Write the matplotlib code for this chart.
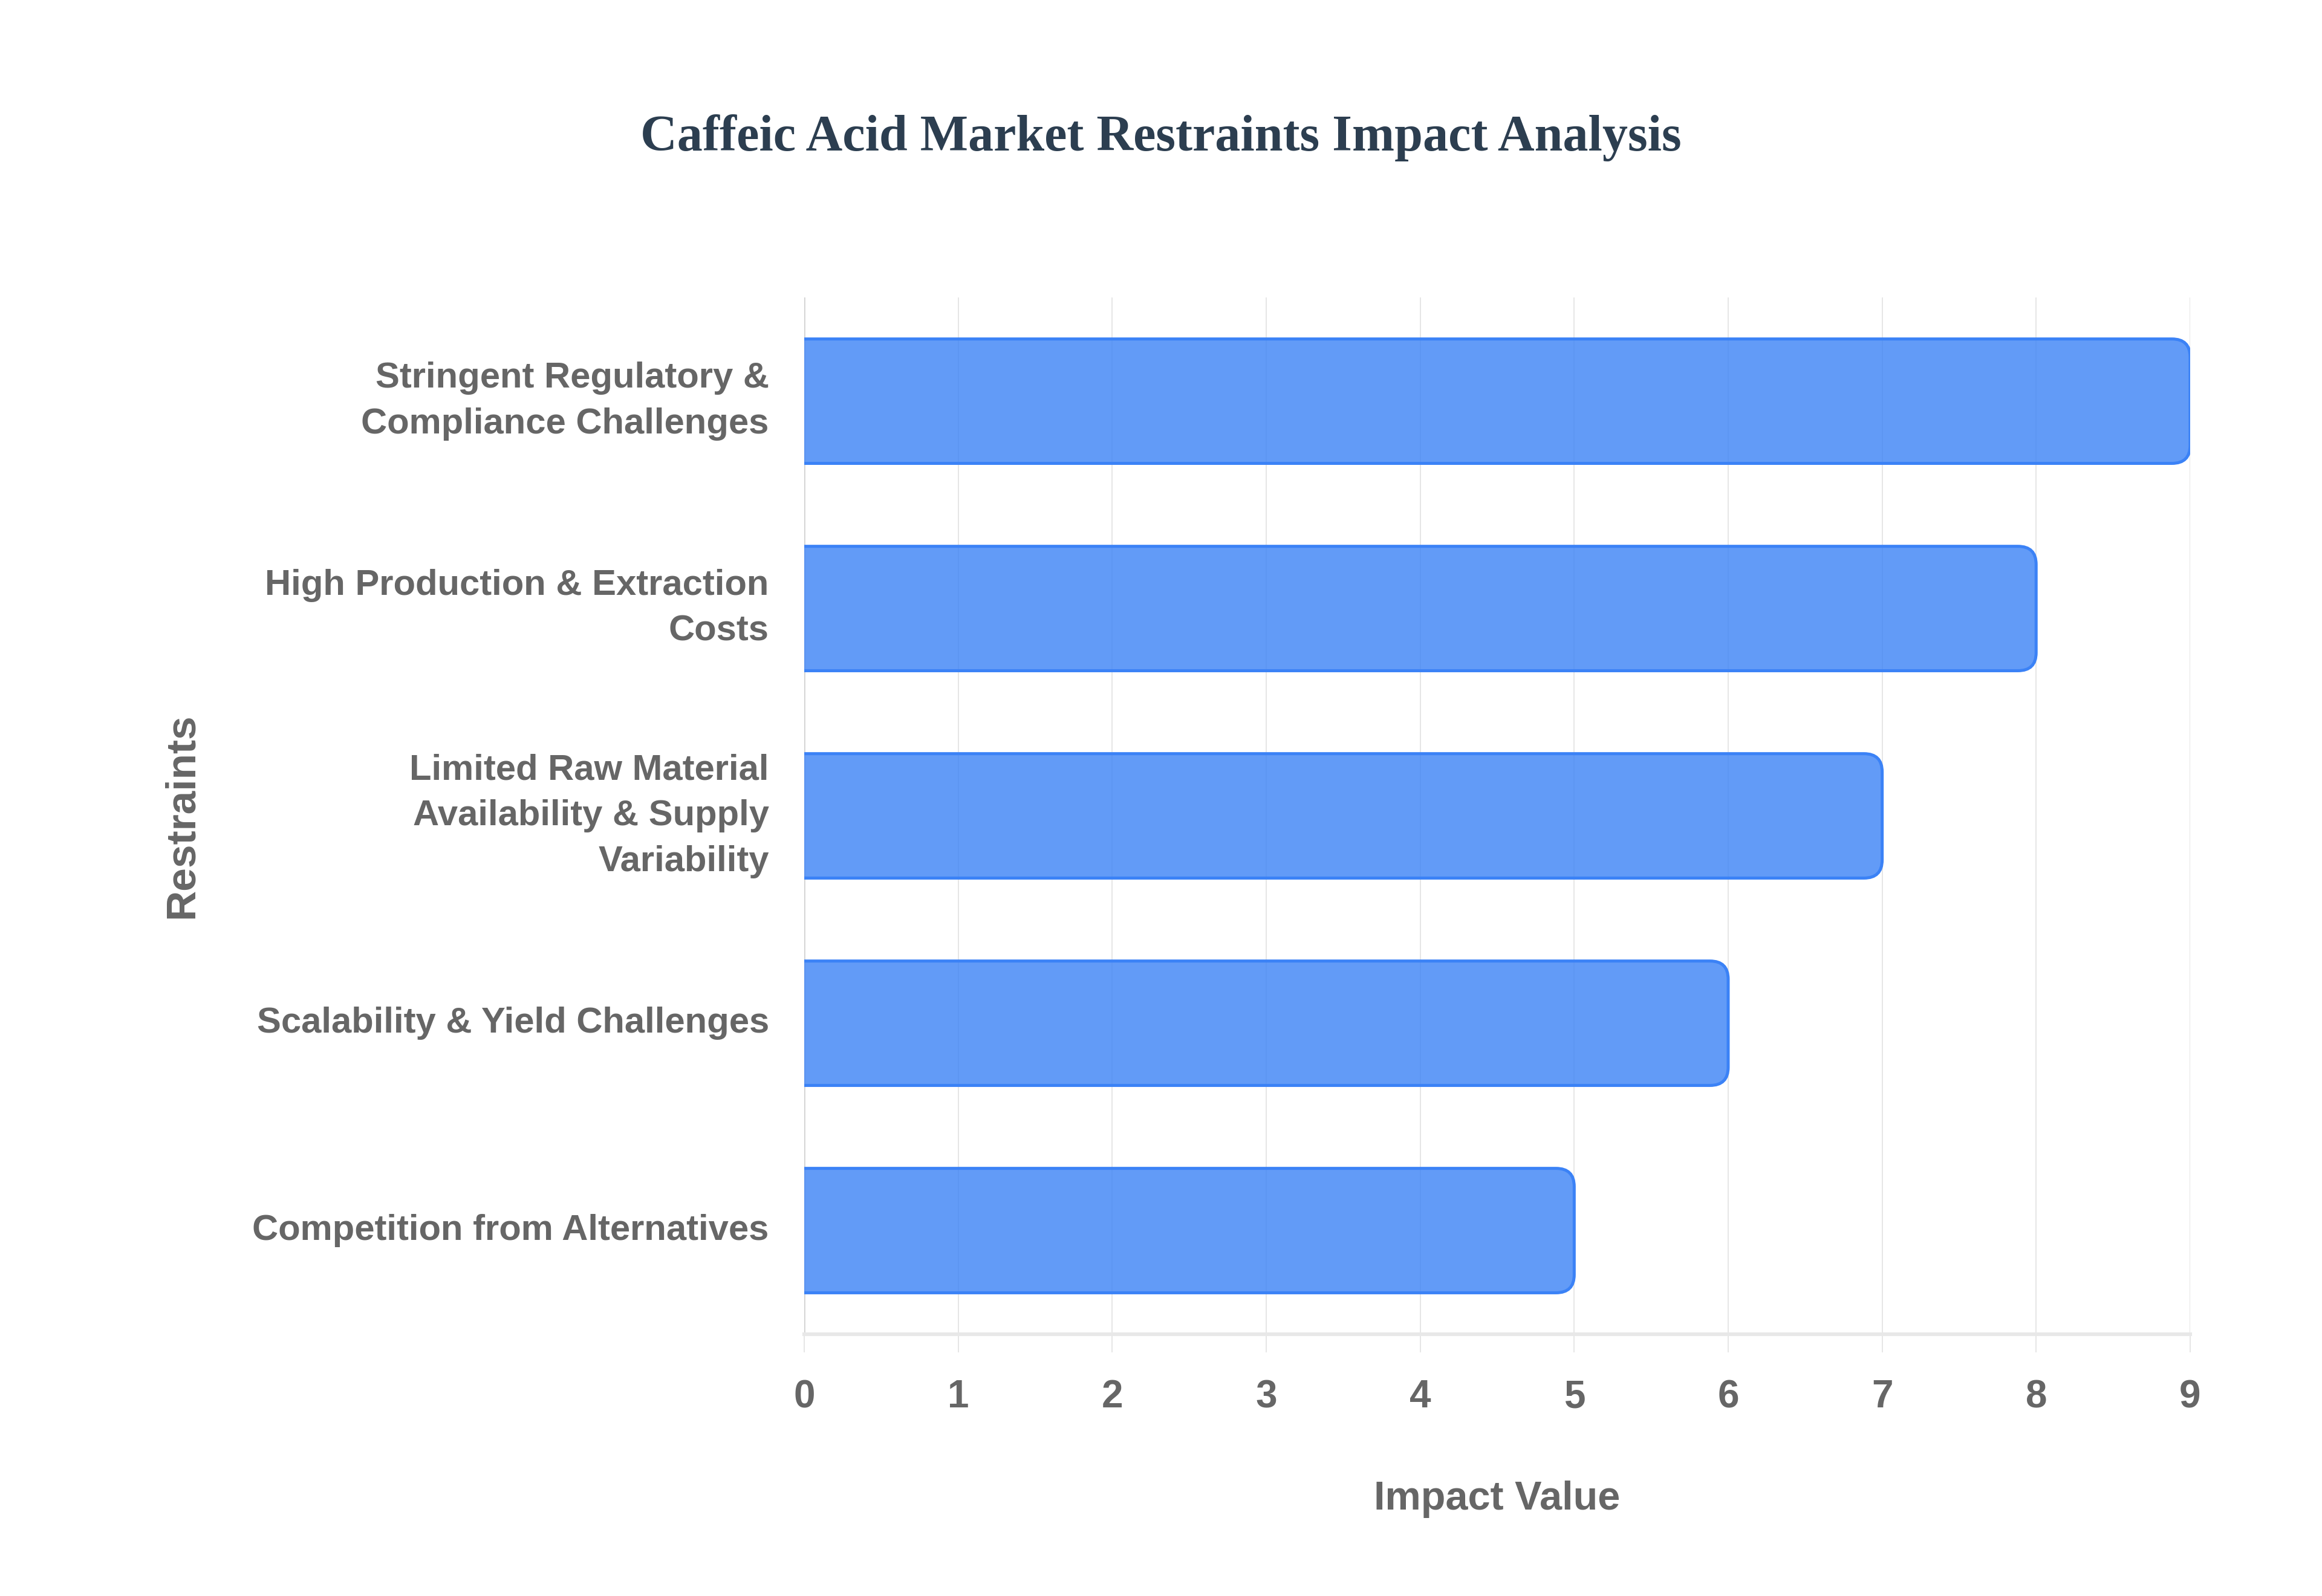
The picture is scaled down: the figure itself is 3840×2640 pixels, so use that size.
import matplotlib
matplotlib.use('Agg')
import matplotlib.pyplot as plt
from matplotlib.patches import FancyBboxPatch

restraints = [
    'Stringent Regulatory &\nCompliance Challenges',
    'High Production & Extraction\nCosts',
    'Limited Raw Material\nAvailability & Supply\nVariability',
    'Scalability & Yield Challenges',
    'Competition from Alternatives',
]
impact_values = [9, 8, 7, 6, 5]
x_ticks = [0, 1, 2, 3, 4, 5, 6, 7, 8, 9]

BAR_COLOR = '#3b82f6'
TEXT_GREY = '#666666'
GRID_GREY = '#e6e6e6'

plt.rcParams['font.family'] = ['Liberation Sans', 'DejaVu Sans']

fig = plt.figure(figsize=(19.2, 13.2), dpi=200)
ax = fig.add_axes([0.3464, 0.164, 0.5968, 0.6496])

positions = list(range(len(restraints)))
bar_height = 0.6
# corner radius in data units (x), and aspect to keep corners round on screen
radius = 0.118
aspect = 0.742
for pos, val in zip(positions, impact_values):
    start = -0.3  # left end hidden under the axis edge so only the right corners show rounded
    patch = FancyBboxPatch(
        (start, pos - bar_height / 2), val - start, bar_height,
        boxstyle=f'round,pad=0,rounding_size={radius}',
        mutation_aspect=aspect,
        facecolor=BAR_COLOR, alpha=0.8, edgecolor='none', zorder=3)
    ax.add_patch(patch)
    edge = FancyBboxPatch(
        (start, pos - bar_height / 2), val - start, bar_height,
        boxstyle=f'round,pad=0,rounding_size={radius}',
        mutation_aspect=aspect,
        facecolor='none', edgecolor=BAR_COLOR, linewidth=1.8, zorder=4)
    ax.add_patch(edge)

ax.set_xlim(0, 9)
ax.set_ylim(len(restraints) - 0.5, -0.5)

ax.set_yticks(positions)
ax.set_yticklabels(restraints, fontsize=21.5, fontweight='bold', color=TEXT_GREY,
                   multialignment='right', linespacing=1.48, va='center')
ax.set_xticks(x_ticks)
ax.set_xticklabels([str(t) for t in x_ticks], fontsize=23, fontweight='bold',
                   color=TEXT_GREY)
ax.tick_params(axis='y', length=0, pad=21)
ax.tick_params(axis='x', length=10.8, width=0.7, color=GRID_GREY, pad=16)

ax.grid(axis='x', color=GRID_GREY, linewidth=0.7, zorder=0)
ax.axvline(0, color='#d0d0d0', linewidth=0.9, zorder=1)
ax.set_axisbelow(True)

for side in ['top', 'right', 'left']:
    ax.spines[side].set_visible(False)
ax.spines['bottom'].set_color('#e8e8e8')
ax.spines['bottom'].set_linewidth(2.2)

ax.set_xlabel('Impact Value', fontsize=24, fontweight='bold', color=TEXT_GREY)
ax.xaxis.set_label_coords(0.5, -0.159)
ax.set_ylabel('Restraints', fontsize=25, fontweight='bold', color=TEXT_GREY)
ax.yaxis.set_label_coords(-0.449, 0.5)
ax.yaxis.label.set_va('center')
ax.xaxis.label.set_va('center')

fig.text(0.5, 0.9136, 'Caffeic Acid Market Restraints Impact Analysis',
         ha='center', va='center', fontsize=30.3, fontweight='bold',
         color='#2c3e50', family=['Liberation Serif', 'DejaVu Serif'])

fig.savefig('out.png', dpi=200, facecolor='white')
